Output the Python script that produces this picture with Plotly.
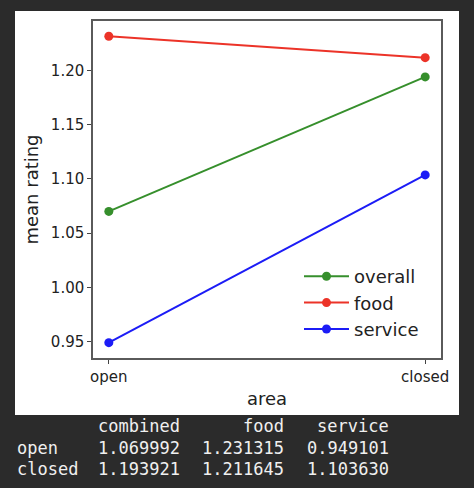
import plotly.graph_objects as go

areas = ["open", "closed"]
combined = [1.069992, 1.193921]
food = [1.231315, 1.211645]
service = [0.949101, 1.103630]

series_names = ["overall", "food", "service"]
series_values = [combined, food, service]
series_colors = ["#368f2c", "#ec3328", "#1c1cf6"]

table_cols = ["combined", "food", "service"]

W, H = 474, 488
L, R, T, B = 93, 441, 21, 358  # plot area pixels


def px(x):
    return (x - L) / (R - L)


def py(y):
    return (B - y) / (B - T)


fig = go.Figure()
for name, vals, col in zip(series_names, series_values, series_colors):
    fig.add_trace(go.Scatter(
        x=areas, y=vals, name=name, mode="lines+markers",
        line=dict(color=col, width=2),
        marker=dict(color=col, size=9),
    ))

# white panel behind the figure
fig.add_shape(type="rect", xref="paper", yref="paper", layer="below",
              x0=px(15), x1=px(459), y0=py(415), y1=py(11),
              fillcolor="white", line=dict(width=0))

# text table below the figure
mono = dict(family="DejaVu Sans Mono", size=17, color="#f0f0f0")
cw = 10.44
row_y = [426, 448, 469]
col_ends = [15 + 16 * cw, 15 + 26 * cw, 15 + 36 * cw]
for c, name in enumerate(table_cols):
    fig.add_annotation(xref="paper", yref="paper", x=px(col_ends[c]), y=py(row_y[0]),
                       text=name, showarrow=False, xanchor="right", yanchor="middle", font=mono)
for r, a in enumerate(areas):
    fig.add_annotation(xref="paper", yref="paper", x=px(15), y=py(row_y[r + 1]),
                       text=a, showarrow=False, xanchor="left", yanchor="middle", font=mono)
    for c, vals in enumerate([combined, food, service]):
        fig.add_annotation(xref="paper", yref="paper", x=px(col_ends[c]), y=py(row_y[r + 1]),
                           text=f"{vals[r]:.6f}", showarrow=False, xanchor="right",
                           yanchor="middle", font=mono)

axis_common = dict(showline=True, linecolor="#5a5a5a", linewidth=1.5, mirror=True,
                   ticks="outside", ticklen=4, tickcolor="#444", tickwidth=1.2,
                   showgrid=False, zeroline=False, automargin=False,
                   tickfont=dict(family="DejaVu Sans", size=15, color="#222"))

fig.update_layout(
    width=W, height=H,
    margin=dict(l=L, r=W - R, t=T, b=H - B, autoexpand=False),
    paper_bgcolor="#2b2b2b", plot_bgcolor="white",
    font=dict(family="DejaVu Sans", color="#222"),
    xaxis=dict(range=[-0.05, 1.05], title=dict(text="area", font=dict(size=18, color="#222"), standoff=8),
               **axis_common),
    yaxis=dict(range=[0.9350, 1.2454], tickvals=[0.95, 1.0, 1.05, 1.10, 1.15, 1.20],
               tickformat=".2f",
               title=dict(text="mean rating", font=dict(size=18, color="#222"), standoff=8),
               **axis_common),
    legend=dict(x=px(299), y=py(258), xanchor="left", yanchor="top",
                bgcolor="rgba(0,0,0,0)", font=dict(size=18, color="#222"),
                itemwidth=45),
)

fig.write_html("out.html", config={"displayModeBar": False},
               post_script="document.body.style.margin='0';document.documentElement.style.margin='0';")
